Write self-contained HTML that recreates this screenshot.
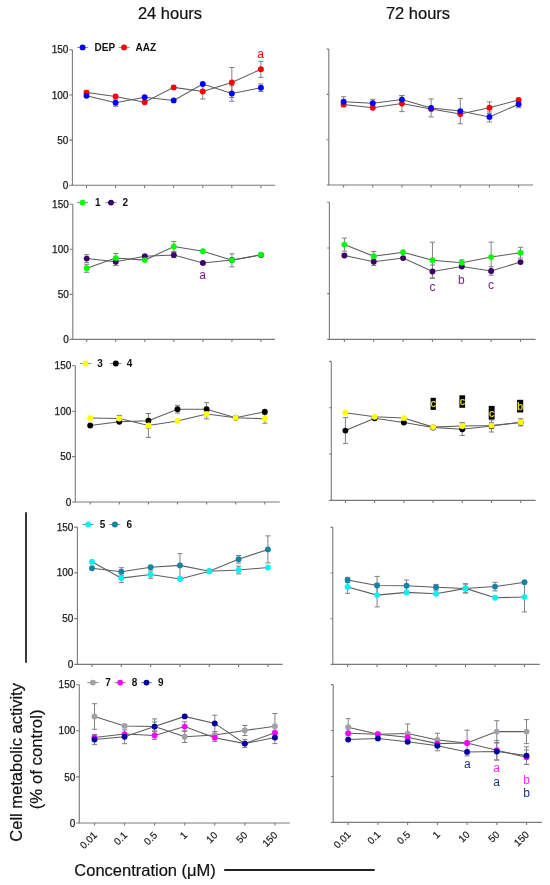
<!DOCTYPE html>
<html><head><meta charset="utf-8"><style>
html,body{margin:0;padding:0;background:#fff;}
body{width:550px;height:885px;overflow:hidden;}
svg{display:block;will-change:transform;font-family:"Liberation Sans",sans-serif;}
.yt{font-size:10px;fill:#1a1a1a;stroke:#1a1a1a;stroke-width:0.25px;text-anchor:end;}
.xt{font-size:10px;fill:#1a1a1a;stroke:#1a1a1a;stroke-width:0.2px;text-anchor:end;}
.lg{font-size:10px;font-weight:bold;fill:#111;}
.lb{font-size:12px;text-anchor:middle;}
.bx{font-size:10.5px;fill:#e8e400;stroke:#e8e400;stroke-width:0.25px;text-anchor:middle;}
.big{font-size:16.5px;fill:#111;stroke:#111;stroke-width:0.2px;}
</style></head><body>
<svg width="550" height="885" viewBox="0 0 550 885">
<rect width="550" height="885" fill="#fff"/>
<text x="170" y="18.7" class="big" text-anchor="middle">24 hours</text>
<text x="418" y="18.7" class="big" text-anchor="middle">72 hours</text>
<text class="big" text-anchor="middle" transform="translate(22.3 762.4) rotate(-90)">Cell metabolic activity</text>
<text class="big" text-anchor="middle" transform="translate(42 759.4) rotate(-90)" style="font-size:16.8px">(% of control)</text>
<path d="M26 512.3V662.7" stroke="#222" stroke-width="1.8"/>
<text x="74.3" y="876" class="big">Concentration (μM)</text>
<path d="M224.2 870H374.7" stroke="#222" stroke-width="1.9"/>
<g>
<path d="M72.4 49.8V185.3H275" fill="none" stroke="#7a7a7a" stroke-width="1.1"/>
<path d="M69.2 185.3H72.4M69.2 140.13H72.4M69.2 94.97H72.4M69.2 49.8H72.4" stroke="#7a7a7a" stroke-width="1.1"/>
<path d="M86.5 185.3v2.6M115.57 185.3v2.6M144.63 185.3v2.6M173.7 185.3v2.6M202.77 185.3v2.6M231.83 185.3v2.6M260.9 185.3v2.6" stroke="#7a7a7a" stroke-width="1.1"/>
<text x="68.4" y="188.9" class="yt">0</text>
<text x="68.4" y="143.73" class="yt">50</text>
<text x="68.4" y="98.57" class="yt">100</text>
<text x="68.4" y="53.4" class="yt">150</text>
<path d="M86.5 90.4V94.8M83.9 90.4h5.2M83.9 94.8h5.2M202.77 84V99M200.17 84h5.2M200.17 99h5.2M231.83 67.5V97.5M229.23 67.5h5.2M229.23 97.5h5.2M260.9 61.3V77.3M258.3 61.3h5.2M258.3 77.3h5.2" fill="none" stroke="#808080" stroke-width="1"/>
<path d="M115.57 99.1V106.3M112.97 99.1h5.2M112.97 106.3h5.2M231.83 85.8V101.2M229.23 85.8h5.2M229.23 101.2h5.2M260.9 83.9V91.5M258.3 83.9h5.2M258.3 91.5h5.2" fill="none" stroke="#808080" stroke-width="1"/>
<polyline points="86.5,92.6 115.57,96.4 144.63,102.2 173.7,87.4 202.77,91.5 231.83,82.5 260.9,69.3" fill="none" stroke="#5c5c5c" stroke-width="1.05"/>
<polyline points="86.5,95.8 115.57,102.7 144.63,97.3 173.7,100.4 202.77,84 231.83,93.5 260.9,87.7" fill="none" stroke="#5c5c5c" stroke-width="1.05"/>
<circle cx="86.5" cy="92.6" r="2.95" fill="#ff0000"/>
<circle cx="115.57" cy="96.4" r="2.95" fill="#ff0000"/>
<circle cx="144.63" cy="102.2" r="2.95" fill="#ff0000"/>
<circle cx="173.7" cy="87.4" r="2.95" fill="#ff0000"/>
<circle cx="202.77" cy="91.5" r="2.95" fill="#ff0000"/>
<circle cx="231.83" cy="82.5" r="2.95" fill="#ff0000"/>
<circle cx="260.9" cy="69.3" r="2.95" fill="#ff0000"/>
<circle cx="86.5" cy="95.8" r="2.95" fill="#0000ff"/>
<circle cx="115.57" cy="102.7" r="2.95" fill="#0000ff"/>
<circle cx="144.63" cy="97.3" r="2.95" fill="#0000ff"/>
<circle cx="173.7" cy="100.4" r="2.95" fill="#0000ff"/>
<circle cx="202.77" cy="84" r="2.95" fill="#0000ff"/>
<circle cx="231.83" cy="93.5" r="2.95" fill="#0000ff"/>
<circle cx="260.9" cy="87.7" r="2.95" fill="#0000ff"/>
<path d="M77.1 47.4h11" stroke="#888" stroke-width="1"/>
<circle cx="82.6" cy="47.4" r="2.95" fill="#0000ff"/>
<text x="94.6" y="50.8" class="lg">DEP</text>
<path d="M118.6 47.4h11" stroke="#888" stroke-width="1"/>
<circle cx="124.1" cy="47.4" r="2.95" fill="#ff0000"/>
<text x="135.6" y="50.8" class="lg">AAZ</text>
<text x="260.6" y="57.6" class="lb" fill="#ff0000">a</text>
</g>
<g>
<path d="M328.8 49.1V185H533" fill="none" stroke="#7a7a7a" stroke-width="1.1"/>
<path d="M326.6 185H328.8M326.6 139.7H328.8M326.6 94.4H328.8M326.6 49.1H328.8" stroke="#7a7a7a" stroke-width="1.1"/>
<path d="M343.6 185v2.6M372.77 185v2.6M401.93 185v2.6M431.1 185v2.6M460.27 185v2.6M489.43 185v2.6M518.6 185v2.6" stroke="#7a7a7a" stroke-width="1.1"/>
<path d="M343.6 102.5V106.5M341 102.5h5.2M341 106.5h5.2M401.93 95.6V111.6M399.33 95.6h5.2M399.33 111.6h5.2M489.43 101.9V113.5M486.83 101.9h5.2M486.83 113.5h5.2" fill="none" stroke="#808080" stroke-width="1"/>
<path d="M343.6 96.8V106.8M341 96.8h5.2M341 106.8h5.2M372.77 99.3V107.3M370.17 99.3h5.2M370.17 107.3h5.2M401.93 95.6V103.6M399.33 95.6h5.2M399.33 103.6h5.2M431.1 98.9V116.9M428.5 98.9h5.2M428.5 116.9h5.2M460.27 98.4V123.8M457.67 98.4h5.2M457.67 123.8h5.2M489.43 111.9V121.9M486.83 111.9h5.2M486.83 121.9h5.2M518.6 100.9V107.7M516 100.9h5.2M516 107.7h5.2" fill="none" stroke="#808080" stroke-width="1"/>
<polyline points="343.6,104.5 372.77,107.8 401.93,103.6 431.1,109 460.27,114 489.43,107.7 518.6,99.9" fill="none" stroke="#5c5c5c" stroke-width="1.05"/>
<polyline points="343.6,101.8 372.77,103.3 401.93,99.6 431.1,107.9 460.27,111.1 489.43,116.9 518.6,104.3" fill="none" stroke="#5c5c5c" stroke-width="1.05"/>
<circle cx="343.6" cy="104.5" r="2.95" fill="#ff0000"/>
<circle cx="372.77" cy="107.8" r="2.95" fill="#ff0000"/>
<circle cx="401.93" cy="103.6" r="2.95" fill="#ff0000"/>
<circle cx="431.1" cy="109" r="2.95" fill="#ff0000"/>
<circle cx="460.27" cy="114" r="2.95" fill="#ff0000"/>
<circle cx="489.43" cy="107.7" r="2.95" fill="#ff0000"/>
<circle cx="518.6" cy="99.9" r="2.95" fill="#ff0000"/>
<circle cx="343.6" cy="101.8" r="2.95" fill="#0000ff"/>
<circle cx="372.77" cy="103.3" r="2.95" fill="#0000ff"/>
<circle cx="401.93" cy="99.6" r="2.95" fill="#0000ff"/>
<circle cx="431.1" cy="107.9" r="2.95" fill="#0000ff"/>
<circle cx="460.27" cy="111.1" r="2.95" fill="#0000ff"/>
<circle cx="489.43" cy="116.9" r="2.95" fill="#0000ff"/>
<circle cx="518.6" cy="104.3" r="2.95" fill="#0000ff"/>
</g>
<g>
<path d="M72.8 204.2V339.4H275" fill="none" stroke="#7a7a7a" stroke-width="1.1"/>
<path d="M69.6 339.4H72.8M69.6 294.33H72.8M69.6 249.27H72.8M69.6 204.2H72.8" stroke="#7a7a7a" stroke-width="1.1"/>
<path d="M86.7 339.4v2.6M115.75 339.4v2.6M144.8 339.4v2.6M173.85 339.4v2.6M202.9 339.4v2.6M231.95 339.4v2.6M261 339.4v2.6" stroke="#7a7a7a" stroke-width="1.1"/>
<text x="68.8" y="343" class="yt">0</text>
<text x="68.8" y="297.93" class="yt">50</text>
<text x="68.8" y="252.87" class="yt">100</text>
<text x="68.8" y="207.8" class="yt">150</text>
<path d="M86.7 254.6V262.6M84.1 254.6h5.2M84.1 262.6h5.2M115.75 257.9V265.5M113.15 257.9h5.2M113.15 265.5h5.2M173.85 252.5V257.7M171.25 252.5h5.2M171.25 257.7h5.2" fill="none" stroke="#808080" stroke-width="1"/>
<path d="M86.7 264.3V272.3M84.1 264.3h5.2M84.1 272.3h5.2M115.75 253.5V262.7M113.15 253.5h5.2M113.15 262.7h5.2M173.85 241.5V251.5M171.25 241.5h5.2M171.25 251.5h5.2M231.95 253.8V266.8M229.35 253.8h5.2M229.35 266.8h5.2" fill="none" stroke="#808080" stroke-width="1"/>
<polyline points="86.7,258.6 115.75,261.7 144.8,256.3 173.85,255.1 202.9,262.9 231.95,260 261,255" fill="none" stroke="#5c5c5c" stroke-width="1.05"/>
<polyline points="86.7,268.3 115.75,258.1 144.8,260.1 173.85,246.5 202.9,251.2 231.95,260.3 261,254.7" fill="none" stroke="#5c5c5c" stroke-width="1.05"/>
<circle cx="86.7" cy="258.6" r="2.95" fill="#3d0066"/>
<circle cx="115.75" cy="261.7" r="2.95" fill="#3d0066"/>
<circle cx="144.8" cy="256.3" r="2.95" fill="#3d0066"/>
<circle cx="173.85" cy="255.1" r="2.95" fill="#3d0066"/>
<circle cx="202.9" cy="262.9" r="2.95" fill="#3d0066"/>
<circle cx="231.95" cy="260" r="2.95" fill="#3d0066"/>
<circle cx="261" cy="255" r="2.95" fill="#3d0066"/>
<circle cx="86.7" cy="268.3" r="2.95" fill="#00ff00"/>
<circle cx="115.75" cy="258.1" r="2.95" fill="#00ff00"/>
<circle cx="144.8" cy="260.1" r="2.95" fill="#00ff00"/>
<circle cx="173.85" cy="246.5" r="2.95" fill="#00ff00"/>
<circle cx="202.9" cy="251.2" r="2.95" fill="#00ff00"/>
<circle cx="231.95" cy="260.3" r="2.95" fill="#00ff00"/>
<circle cx="261" cy="254.7" r="2.95" fill="#00ff00"/>
<path d="M77.1 202.6h11" stroke="#888" stroke-width="1"/>
<circle cx="82.6" cy="202.6" r="2.95" fill="#00ff00"/>
<text x="95" y="206" class="lg">1</text>
<path d="M105.5 202.6h11" stroke="#888" stroke-width="1"/>
<circle cx="111" cy="202.6" r="2.95" fill="#3d0066"/>
<text x="122.4" y="206" class="lg">2</text>
<text x="202.5" y="278.6" class="lb" fill="#7a1f8a">a</text>
</g>
<g>
<path d="M329.4 202.2V339.4H535.6" fill="none" stroke="#7a7a7a" stroke-width="1.1"/>
<path d="M327.2 339.4H329.4M327.2 293.67H329.4M327.2 247.93H329.4M327.2 202.2H329.4" stroke="#7a7a7a" stroke-width="1.1"/>
<path d="M344.4 339.4v2.6M373.75 339.4v2.6M403.1 339.4v2.6M432.45 339.4v2.6M461.8 339.4v2.6M491.15 339.4v2.6M520.5 339.4v2.6" stroke="#7a7a7a" stroke-width="1.1"/>
<path d="M373.75 258V265.4M371.15 258h5.2M371.15 265.4h5.2M432.45 265V278M429.85 265h5.2M429.85 278h5.2M491.15 266.8V275.2M488.55 266.8h5.2M488.55 275.2h5.2" fill="none" stroke="#808080" stroke-width="1"/>
<path d="M344.4 238.1V251.1M341.8 238.1h5.2M341.8 251.1h5.2M373.75 251.5V261.1M371.15 251.5h5.2M371.15 261.1h5.2M432.45 242.2V278.2M429.85 242.2h5.2M429.85 278.2h5.2M461.8 259.9V265.5M459.2 259.9h5.2M459.2 265.5h5.2M491.15 242.1V272.1M488.55 242.1h5.2M488.55 272.1h5.2M520.5 247.3V258.1M517.9 247.3h5.2M517.9 258.1h5.2" fill="none" stroke="#808080" stroke-width="1"/>
<polyline points="344.4,255.5 373.75,261.7 403.1,258.1 432.45,271.5 461.8,266.5 491.15,271 520.5,262.1" fill="none" stroke="#5c5c5c" stroke-width="1.05"/>
<polyline points="344.4,244.6 373.75,256.3 403.1,252.3 432.45,260.2 461.8,262.7 491.15,257.1 520.5,252.7" fill="none" stroke="#5c5c5c" stroke-width="1.05"/>
<circle cx="344.4" cy="255.5" r="2.95" fill="#3d0066"/>
<circle cx="373.75" cy="261.7" r="2.95" fill="#3d0066"/>
<circle cx="403.1" cy="258.1" r="2.95" fill="#3d0066"/>
<circle cx="432.45" cy="271.5" r="2.95" fill="#3d0066"/>
<circle cx="461.8" cy="266.5" r="2.95" fill="#3d0066"/>
<circle cx="491.15" cy="271" r="2.95" fill="#3d0066"/>
<circle cx="520.5" cy="262.1" r="2.95" fill="#3d0066"/>
<circle cx="344.4" cy="244.6" r="2.95" fill="#00ff00"/>
<circle cx="373.75" cy="256.3" r="2.95" fill="#00ff00"/>
<circle cx="403.1" cy="252.3" r="2.95" fill="#00ff00"/>
<circle cx="432.45" cy="260.2" r="2.95" fill="#00ff00"/>
<circle cx="461.8" cy="262.7" r="2.95" fill="#00ff00"/>
<circle cx="491.15" cy="257.1" r="2.95" fill="#00ff00"/>
<circle cx="520.5" cy="252.7" r="2.95" fill="#00ff00"/>
<text x="432.6" y="290.9" class="lb" fill="#7a1f8a">c</text>
<text x="461.3" y="284" class="lb" fill="#7a1f8a">b</text>
<text x="490.9" y="289.4" class="lb" fill="#7a1f8a">c</text>
</g>
<g>
<path d="M75.3 365.8V502H279.7" fill="none" stroke="#7a7a7a" stroke-width="1.1"/>
<path d="M72.1 502H75.3M72.1 456.6H75.3M72.1 411.2H75.3M72.1 365.8H75.3" stroke="#7a7a7a" stroke-width="1.1"/>
<path d="M90.2 502v2.6M119.3 502v2.6M148.4 502v2.6M177.5 502v2.6M206.6 502v2.6M235.7 502v2.6M264.8 502v2.6" stroke="#7a7a7a" stroke-width="1.1"/>
<text x="71.3" y="505.6" class="yt">0</text>
<text x="71.3" y="460.2" class="yt">50</text>
<text x="71.3" y="414.8" class="yt">100</text>
<text x="71.3" y="369.4" class="yt">150</text>
<path d="M148.4 413.5V428.1M145.8 413.5h5.2M145.8 428.1h5.2M177.5 405.3V413.1M174.9 405.3h5.2M174.9 413.1h5.2M206.6 402.7V415.7M204 402.7h5.2M204 415.7h5.2" fill="none" stroke="#808080" stroke-width="1"/>
<path d="M119.3 415.4V421.8M116.7 415.4h5.2M116.7 421.8h5.2M148.4 413.4V437.4M145.8 413.4h5.2M145.8 437.4h5.2M206.6 409.2V418.8M204 409.2h5.2M204 418.8h5.2M264.8 414.4V423.2M262.2 414.4h5.2M262.2 423.2h5.2" fill="none" stroke="#808080" stroke-width="1"/>
<polyline points="90.2,425.5 119.3,421.7 148.4,420.8 177.5,409.2 206.6,409.2 235.7,417.7 264.8,411.8" fill="none" stroke="#5c5c5c" stroke-width="1.05"/>
<polyline points="90.2,418.1 119.3,418.6 148.4,425.4 177.5,421 206.6,414 235.7,417.7 264.8,418.8" fill="none" stroke="#5c5c5c" stroke-width="1.05"/>
<circle cx="90.2" cy="425.5" r="2.95" fill="#000000"/>
<circle cx="119.3" cy="421.7" r="2.95" fill="#000000"/>
<circle cx="148.4" cy="420.8" r="2.95" fill="#000000"/>
<circle cx="177.5" cy="409.2" r="2.95" fill="#000000"/>
<circle cx="206.6" cy="409.2" r="2.95" fill="#000000"/>
<circle cx="235.7" cy="417.7" r="2.95" fill="#000000"/>
<circle cx="264.8" cy="411.8" r="2.95" fill="#000000"/>
<circle cx="90.2" cy="418.1" r="2.95" fill="#ffff00"/>
<circle cx="119.3" cy="418.6" r="2.95" fill="#ffff00"/>
<circle cx="148.4" cy="425.4" r="2.95" fill="#ffff00"/>
<circle cx="177.5" cy="421" r="2.95" fill="#ffff00"/>
<circle cx="206.6" cy="414" r="2.95" fill="#ffff00"/>
<circle cx="235.7" cy="417.7" r="2.95" fill="#ffff00"/>
<circle cx="264.8" cy="418.8" r="2.95" fill="#ffff00"/>
<path d="M80.1 363.5h11" stroke="#888" stroke-width="1"/>
<circle cx="85.6" cy="363.5" r="2.95" fill="#ffff00"/>
<text x="97.3" y="366.9" class="lg">3</text>
<path d="M110.3 363.5h11" stroke="#888" stroke-width="1"/>
<circle cx="115.8" cy="363.5" r="2.95" fill="#000000"/>
<text x="126.8" y="366.9" class="lg">4</text>
</g>
<g>
<path d="M331.3 361.4V500.4H535.6" fill="none" stroke="#7a7a7a" stroke-width="1.1"/>
<path d="M329.1 500.4H331.3M329.1 454.07H331.3M329.1 407.73H331.3M329.1 361.4H331.3" stroke="#7a7a7a" stroke-width="1.1"/>
<path d="M345.4 500.4v2.6M374.62 500.4v2.6M403.83 500.4v2.6M433.05 500.4v2.6M462.27 500.4v2.6M491.48 500.4v2.6M520.7 500.4v2.6" stroke="#7a7a7a" stroke-width="1.1"/>
<path d="M345.4 417.6V443.6M342.8 417.6h5.2M342.8 443.6h5.2M462.27 423.1V435.5M459.67 423.1h5.2M459.67 435.5h5.2M491.48 420V432M488.88 420h5.2M488.88 432h5.2" fill="none" stroke="#808080" stroke-width="1"/>
<path d="M462.27 422.7V429.3M459.67 422.7h5.2M459.67 429.3h5.2M491.48 422.6V428.6M488.88 422.6h5.2M488.88 428.6h5.2M520.7 418.7V425.9M518.1 418.7h5.2M518.1 425.9h5.2" fill="none" stroke="#808080" stroke-width="1"/>
<polyline points="345.4,430.6 374.62,418.3 403.83,422.6 433.05,427.5 462.27,429.3 491.48,426 520.7,422.5" fill="none" stroke="#5c5c5c" stroke-width="1.05"/>
<polyline points="345.4,412.8 374.62,416.8 403.83,418.1 433.05,427.1 462.27,426 491.48,425.6 520.7,422.3" fill="none" stroke="#5c5c5c" stroke-width="1.05"/>
<circle cx="345.4" cy="430.6" r="2.95" fill="#000000"/>
<circle cx="374.62" cy="418.3" r="2.95" fill="#000000"/>
<circle cx="403.83" cy="422.6" r="2.95" fill="#000000"/>
<circle cx="433.05" cy="427.5" r="2.95" fill="#000000"/>
<circle cx="462.27" cy="429.3" r="2.95" fill="#000000"/>
<circle cx="491.48" cy="426" r="2.95" fill="#000000"/>
<circle cx="520.7" cy="422.5" r="2.95" fill="#000000"/>
<circle cx="345.4" cy="412.8" r="2.95" fill="#ffff00"/>
<circle cx="374.62" cy="416.8" r="2.95" fill="#ffff00"/>
<circle cx="403.83" cy="418.1" r="2.95" fill="#ffff00"/>
<circle cx="433.05" cy="427.1" r="2.95" fill="#ffff00"/>
<circle cx="462.27" cy="426" r="2.95" fill="#ffff00"/>
<circle cx="491.48" cy="425.6" r="2.95" fill="#ffff00"/>
<circle cx="520.7" cy="422.3" r="2.95" fill="#ffff00"/>
<rect x="430.6" y="397.8" width="5.2" height="12.1" fill="#000"/>
<text x="433.2" y="407.4" class="bx">c</text>
<rect x="459.4" y="395.3" width="5.7" height="12.5" fill="#000"/>
<text x="462.25" y="405.3" class="bx">c</text>
<rect x="488.7" y="405.9" width="5.9" height="13.6" fill="#000"/>
<text x="491.65" y="417" class="bx">c</text>
<rect x="517.1" y="399.8" width="6.1" height="12.7" fill="#000"/>
<text x="520.15" y="410" class="bx">b</text>
</g>
<g>
<path d="M77.4 527.1V664.4H282.6" fill="none" stroke="#7a7a7a" stroke-width="1.1"/>
<path d="M74.2 664.4H77.4M74.2 618.63H77.4M74.2 572.87H77.4M74.2 527.1H77.4" stroke="#7a7a7a" stroke-width="1.1"/>
<path d="M92 664.4v2.6M121.32 664.4v2.6M150.63 664.4v2.6M179.95 664.4v2.6M209.27 664.4v2.6M238.58 664.4v2.6M267.9 664.4v2.6" stroke="#7a7a7a" stroke-width="1.1"/>
<text x="73.4" y="668" class="yt">0</text>
<text x="73.4" y="622.23" class="yt">50</text>
<text x="73.4" y="576.47" class="yt">100</text>
<text x="73.4" y="530.7" class="yt">150</text>
<path d="M121.32 567.7V575.7M118.72 567.7h5.2M118.72 575.7h5.2M179.95 553.7V577.1M177.35 553.7h5.2M177.35 577.1h5.2M238.58 555.5V563.1M235.98 555.5h5.2M235.98 563.1h5.2M267.9 535.9V562.9M265.3 535.9h5.2M265.3 562.9h5.2" fill="none" stroke="#808080" stroke-width="1"/>
<path d="M121.32 573.6V582.6M118.72 573.6h5.2M118.72 582.6h5.2M150.63 570.9V578.3M148.03 570.9h5.2M148.03 578.3h5.2M238.58 566.1V573.9M235.98 566.1h5.2M235.98 573.9h5.2" fill="none" stroke="#808080" stroke-width="1"/>
<polyline points="92,568.3 121.32,571.7 150.63,567.2 179.95,565.4 209.27,571.3 238.58,559.3 267.9,549.4" fill="none" stroke="#5c5c5c" stroke-width="1.05"/>
<polyline points="92,561.7 121.32,578.1 150.63,574.6 179.95,578.9 209.27,571.3 238.58,570 267.9,567.5" fill="none" stroke="#5c5c5c" stroke-width="1.05"/>
<circle cx="92" cy="568.3" r="2.95" fill="#1285a5"/>
<circle cx="121.32" cy="571.7" r="2.95" fill="#1285a5"/>
<circle cx="150.63" cy="567.2" r="2.95" fill="#1285a5"/>
<circle cx="179.95" cy="565.4" r="2.95" fill="#1285a5"/>
<circle cx="209.27" cy="571.3" r="2.95" fill="#1285a5"/>
<circle cx="238.58" cy="559.3" r="2.95" fill="#1285a5"/>
<circle cx="267.9" cy="549.4" r="2.95" fill="#1285a5"/>
<circle cx="92" cy="561.7" r="2.95" fill="#00f4f4"/>
<circle cx="121.32" cy="578.1" r="2.95" fill="#00f4f4"/>
<circle cx="150.63" cy="574.6" r="2.95" fill="#00f4f4"/>
<circle cx="179.95" cy="578.9" r="2.95" fill="#00f4f4"/>
<circle cx="209.27" cy="571.3" r="2.95" fill="#00f4f4"/>
<circle cx="238.58" cy="570" r="2.95" fill="#00f4f4"/>
<circle cx="267.9" cy="567.5" r="2.95" fill="#00f4f4"/>
<path d="M82.7 524.5h11" stroke="#888" stroke-width="1"/>
<circle cx="88.2" cy="524.5" r="2.95" fill="#00f4f4"/>
<text x="99.7" y="527.9" class="lg">5</text>
<path d="M109.4 524.5h11" stroke="#888" stroke-width="1"/>
<circle cx="114.9" cy="524.5" r="2.95" fill="#1285a5"/>
<text x="126.6" y="527.9" class="lg">6</text>
</g>
<g>
<path d="M332.8 527.4V664.4H539.8" fill="none" stroke="#7a7a7a" stroke-width="1.1"/>
<path d="M330.6 664.4H332.8M330.6 618.73H332.8M330.6 573.07H332.8M330.6 527.4H332.8" stroke="#7a7a7a" stroke-width="1.1"/>
<path d="M347.6 664.4v2.6M377.08 664.4v2.6M406.57 664.4v2.6M436.05 664.4v2.6M465.53 664.4v2.6M495.02 664.4v2.6M524.5 664.4v2.6" stroke="#7a7a7a" stroke-width="1.1"/>
<path d="M347.6 577.3V582.7M345 577.3h5.2M345 582.7h5.2M377.08 576.4V594.6M374.48 576.4h5.2M374.48 594.6h5.2M406.57 580V591.6M403.97 580h5.2M403.97 591.6h5.2M436.05 584.4V590.2M433.45 584.4h5.2M433.45 590.2h5.2M465.53 583.9V592.9M462.93 583.9h5.2M462.93 592.9h5.2M495.02 582.3V590.9M492.42 582.3h5.2M492.42 590.9h5.2" fill="none" stroke="#808080" stroke-width="1"/>
<path d="M347.6 580.5V593.3M345 580.5h5.2M345 593.3h5.2M377.08 583.3V606.9M374.48 583.3h5.2M374.48 606.9h5.2M465.53 583.9V592.9M462.93 583.9h5.2M462.93 592.9h5.2M524.5 582.3V611.9M521.9 582.3h5.2M521.9 611.9h5.2" fill="none" stroke="#808080" stroke-width="1"/>
<polyline points="347.6,580 377.08,585.5 406.57,585.8 436.05,587.3 465.53,588.4 495.02,586.6 524.5,582.3" fill="none" stroke="#5c5c5c" stroke-width="1.05"/>
<polyline points="347.6,586.9 377.08,595.1 406.57,592.4 436.05,593.8 465.53,588.4 495.02,597.7 524.5,597.1" fill="none" stroke="#5c5c5c" stroke-width="1.05"/>
<circle cx="347.6" cy="580" r="2.95" fill="#1285a5"/>
<circle cx="377.08" cy="585.5" r="2.95" fill="#1285a5"/>
<circle cx="406.57" cy="585.8" r="2.95" fill="#1285a5"/>
<circle cx="436.05" cy="587.3" r="2.95" fill="#1285a5"/>
<circle cx="465.53" cy="588.4" r="2.95" fill="#1285a5"/>
<circle cx="495.02" cy="586.6" r="2.95" fill="#1285a5"/>
<circle cx="524.5" cy="582.3" r="2.95" fill="#1285a5"/>
<circle cx="347.6" cy="586.9" r="2.95" fill="#00f4f4"/>
<circle cx="377.08" cy="595.1" r="2.95" fill="#00f4f4"/>
<circle cx="406.57" cy="592.4" r="2.95" fill="#00f4f4"/>
<circle cx="436.05" cy="593.8" r="2.95" fill="#00f4f4"/>
<circle cx="465.53" cy="588.4" r="2.95" fill="#00f4f4"/>
<circle cx="495.02" cy="597.7" r="2.95" fill="#00f4f4"/>
<circle cx="524.5" cy="597.1" r="2.95" fill="#00f4f4"/>
</g>
<g>
<path d="M79.3 684.7V823H289.8" fill="none" stroke="#7a7a7a" stroke-width="1.1"/>
<path d="M76.1 823H79.3M76.1 776.9H79.3M76.1 730.8H79.3M76.1 684.7H79.3" stroke="#7a7a7a" stroke-width="1.1"/>
<path d="M94.5 823v2.6M124.57 823v2.6M154.63 823v2.6M184.7 823v2.6M214.77 823v2.6M244.83 823v2.6M274.9 823v2.6" stroke="#7a7a7a" stroke-width="1.1"/>
<text x="75.3" y="826.6" class="yt">0</text>
<text x="75.3" y="780.5" class="yt">50</text>
<text x="75.3" y="734.4" class="yt">100</text>
<text x="75.3" y="688.3" class="yt">150</text>
<text class="xt" transform="translate(97.8 835.8) rotate(-45)">0.01</text>
<text class="xt" transform="translate(127.87 835.8) rotate(-45)">0.1</text>
<text class="xt" transform="translate(157.93 835.8) rotate(-45)">0.5</text>
<text class="xt" transform="translate(188 835.8) rotate(-45)">1</text>
<text class="xt" transform="translate(218.07 835.8) rotate(-45)">10</text>
<text class="xt" transform="translate(248.13 835.8) rotate(-45)">50</text>
<text class="xt" transform="translate(278.2 835.8) rotate(-45)">150</text>
<path d="M94.5 703.7V729.3M91.9 703.7h5.2M91.9 729.3h5.2M154.63 721.9V730.9M152.03 721.9h5.2M152.03 730.9h5.2M184.7 730.9V742.5M182.1 730.9h5.2M182.1 742.5h5.2M244.83 725.5V735.5M242.23 725.5h5.2M242.23 735.5h5.2M274.9 713.5V738.9M272.3 713.5h5.2M272.3 738.9h5.2" fill="none" stroke="#808080" stroke-width="1"/>
<path d="M154.63 731.6V739.4M152.03 731.6h5.2M152.03 739.4h5.2M184.7 721.8V731.4M182.1 721.8h5.2M182.1 731.4h5.2M214.77 734.2V741.4M212.17 734.2h5.2M212.17 741.4h5.2" fill="none" stroke="#808080" stroke-width="1"/>
<path d="M94.5 734.4V744.6M91.9 734.4h5.2M91.9 744.6h5.2M124.57 729.9V743.7M121.97 729.9h5.2M121.97 743.7h5.2M154.63 718.9V734.3M152.03 718.9h5.2M152.03 734.3h5.2M214.77 715.2V731.6M212.17 715.2h5.2M212.17 731.6h5.2M244.83 739.6V747.6M242.23 739.6h5.2M242.23 747.6h5.2M274.9 731.4V743.6M272.3 731.4h5.2M272.3 743.6h5.2" fill="none" stroke="#808080" stroke-width="1"/>
<polyline points="94.5,716.5 124.57,725.9 154.63,726.4 184.7,736.7 214.77,735 244.83,730.5 274.9,726.2" fill="none" stroke="#5c5c5c" stroke-width="1.05"/>
<polyline points="94.5,737.4 124.57,734.1 154.63,735.5 184.7,726.6 214.77,737.8 244.83,743.6 274.9,732.7" fill="none" stroke="#5c5c5c" stroke-width="1.05"/>
<polyline points="94.5,739.5 124.57,736.8 154.63,726.6 184.7,716.4 214.77,723.4 244.83,743.6 274.9,737.5" fill="none" stroke="#5c5c5c" stroke-width="1.05"/>
<circle cx="94.5" cy="716.5" r="2.95" fill="#a0a0a6"/>
<circle cx="124.57" cy="725.9" r="2.95" fill="#a0a0a6"/>
<circle cx="154.63" cy="726.4" r="2.95" fill="#a0a0a6"/>
<circle cx="184.7" cy="736.7" r="2.95" fill="#a0a0a6"/>
<circle cx="214.77" cy="735" r="2.95" fill="#a0a0a6"/>
<circle cx="244.83" cy="730.5" r="2.95" fill="#a0a0a6"/>
<circle cx="274.9" cy="726.2" r="2.95" fill="#a0a0a6"/>
<circle cx="94.5" cy="737.4" r="2.95" fill="#ff00ff"/>
<circle cx="124.57" cy="734.1" r="2.95" fill="#ff00ff"/>
<circle cx="154.63" cy="735.5" r="2.95" fill="#ff00ff"/>
<circle cx="184.7" cy="726.6" r="2.95" fill="#ff00ff"/>
<circle cx="214.77" cy="737.8" r="2.95" fill="#ff00ff"/>
<circle cx="244.83" cy="743.6" r="2.95" fill="#ff00ff"/>
<circle cx="274.9" cy="732.7" r="2.95" fill="#ff00ff"/>
<circle cx="94.5" cy="739.5" r="2.95" fill="#0000a0"/>
<circle cx="124.57" cy="736.8" r="2.95" fill="#0000a0"/>
<circle cx="154.63" cy="726.6" r="2.95" fill="#0000a0"/>
<circle cx="184.7" cy="716.4" r="2.95" fill="#0000a0"/>
<circle cx="214.77" cy="723.4" r="2.95" fill="#0000a0"/>
<circle cx="244.83" cy="743.6" r="2.95" fill="#0000a0"/>
<circle cx="274.9" cy="737.5" r="2.95" fill="#0000a0"/>
<path d="M87.4 682.6h11" stroke="#888" stroke-width="1"/>
<circle cx="92.9" cy="682.6" r="2.95" fill="#a0a0a6"/>
<text x="105.3" y="686" class="lg">7</text>
<path d="M114.7 682.6h11" stroke="#888" stroke-width="1"/>
<circle cx="120.2" cy="682.6" r="2.95" fill="#ff00ff"/>
<text x="131.7" y="686" class="lg">8</text>
<path d="M141 682.6h11" stroke="#888" stroke-width="1"/>
<circle cx="146.5" cy="682.6" r="2.95" fill="#0000a0"/>
<text x="158.1" y="686" class="lg">9</text>
</g>
<g>
<path d="M333.2 684.6V822.4H542" fill="none" stroke="#7a7a7a" stroke-width="1.1"/>
<path d="M331 822.4H333.2M331 776.47H333.2M331 730.53H333.2M331 684.6H333.2" stroke="#7a7a7a" stroke-width="1.1"/>
<path d="M348.2 822.4v2.6M377.92 822.4v2.6M407.63 822.4v2.6M437.35 822.4v2.6M467.07 822.4v2.6M496.78 822.4v2.6M526.5 822.4v2.6" stroke="#7a7a7a" stroke-width="1.1"/>
<text class="xt" transform="translate(351.5 835.2) rotate(-45)">0.01</text>
<text class="xt" transform="translate(381.22 835.2) rotate(-45)">0.1</text>
<text class="xt" transform="translate(410.93 835.2) rotate(-45)">0.5</text>
<text class="xt" transform="translate(440.65 835.2) rotate(-45)">1</text>
<text class="xt" transform="translate(470.37 835.2) rotate(-45)">10</text>
<text class="xt" transform="translate(500.08 835.2) rotate(-45)">50</text>
<text class="xt" transform="translate(529.8 835.2) rotate(-45)">150</text>
<path d="M348.2 718.7V735.9M345.6 718.7h5.2M345.6 735.9h5.2M407.63 724V743.2M405.03 724h5.2M405.03 743.2h5.2M437.35 733.2V746.6M434.75 733.2h5.2M434.75 746.6h5.2M467.07 730.1V755.9M464.47 730.1h5.2M464.47 755.9h5.2M496.78 720.7V742.5M494.18 720.7h5.2M494.18 742.5h5.2M526.5 719.6V743.6M523.9 719.6h5.2M523.9 743.6h5.2" fill="none" stroke="#808080" stroke-width="1"/>
<path d="M496.78 740.4V760M494.18 740.4h5.2M494.18 760h5.2M526.5 750V764.4M523.9 750h5.2M523.9 764.4h5.2" fill="none" stroke="#808080" stroke-width="1"/>
<path d="M437.35 740.8V750.8M434.75 740.8h5.2M434.75 750.8h5.2M496.78 743V760M494.18 743h5.2M494.18 760h5.2M526.5 746.8V764.4M523.9 746.8h5.2M523.9 764.4h5.2" fill="none" stroke="#808080" stroke-width="1"/>
<polyline points="348.2,727.3 377.92,734.2 407.63,733.6 437.35,739.9 467.07,743 496.78,731.6 526.5,731.6" fill="none" stroke="#5c5c5c" stroke-width="1.05"/>
<polyline points="348.2,733.3 377.92,734.2 407.63,737.3 437.35,743.6 467.07,743 496.78,750.2 526.5,757.2" fill="none" stroke="#5c5c5c" stroke-width="1.05"/>
<polyline points="348.2,739.6 377.92,738.5 407.63,741.8 437.35,745.8 467.07,751.9 496.78,751.5 526.5,755.6" fill="none" stroke="#5c5c5c" stroke-width="1.05"/>
<circle cx="348.2" cy="727.3" r="2.95" fill="#a0a0a6"/>
<circle cx="377.92" cy="734.2" r="2.95" fill="#a0a0a6"/>
<circle cx="407.63" cy="733.6" r="2.95" fill="#a0a0a6"/>
<circle cx="437.35" cy="739.9" r="2.95" fill="#a0a0a6"/>
<circle cx="467.07" cy="743" r="2.95" fill="#a0a0a6"/>
<circle cx="496.78" cy="731.6" r="2.95" fill="#a0a0a6"/>
<circle cx="526.5" cy="731.6" r="2.95" fill="#a0a0a6"/>
<circle cx="348.2" cy="733.3" r="2.95" fill="#ff00ff"/>
<circle cx="377.92" cy="734.2" r="2.95" fill="#ff00ff"/>
<circle cx="407.63" cy="737.3" r="2.95" fill="#ff00ff"/>
<circle cx="437.35" cy="743.6" r="2.95" fill="#ff00ff"/>
<circle cx="467.07" cy="743" r="2.95" fill="#ff00ff"/>
<circle cx="496.78" cy="750.2" r="2.95" fill="#ff00ff"/>
<circle cx="526.5" cy="757.2" r="2.95" fill="#ff00ff"/>
<circle cx="348.2" cy="739.6" r="2.95" fill="#0000a0"/>
<circle cx="377.92" cy="738.5" r="2.95" fill="#0000a0"/>
<circle cx="407.63" cy="741.8" r="2.95" fill="#0000a0"/>
<circle cx="437.35" cy="745.8" r="2.95" fill="#0000a0"/>
<circle cx="467.07" cy="751.9" r="2.95" fill="#0000a0"/>
<circle cx="496.78" cy="751.5" r="2.95" fill="#0000a0"/>
<circle cx="526.5" cy="755.6" r="2.95" fill="#0000a0"/>
<text x="467.3" y="768.2" class="lb" fill="#1f2f80">a</text>
<text x="496.7" y="771.5" class="lb" fill="#ff22ff">a</text>
<text x="496.7" y="785.5" class="lb" fill="#1f2f80">a</text>
<text x="526.7" y="783.6" class="lb" fill="#ff22ff">b</text>
<text x="526.7" y="796.9" class="lb" fill="#1f2f80">b</text>
</g>
</svg>
</body></html>
